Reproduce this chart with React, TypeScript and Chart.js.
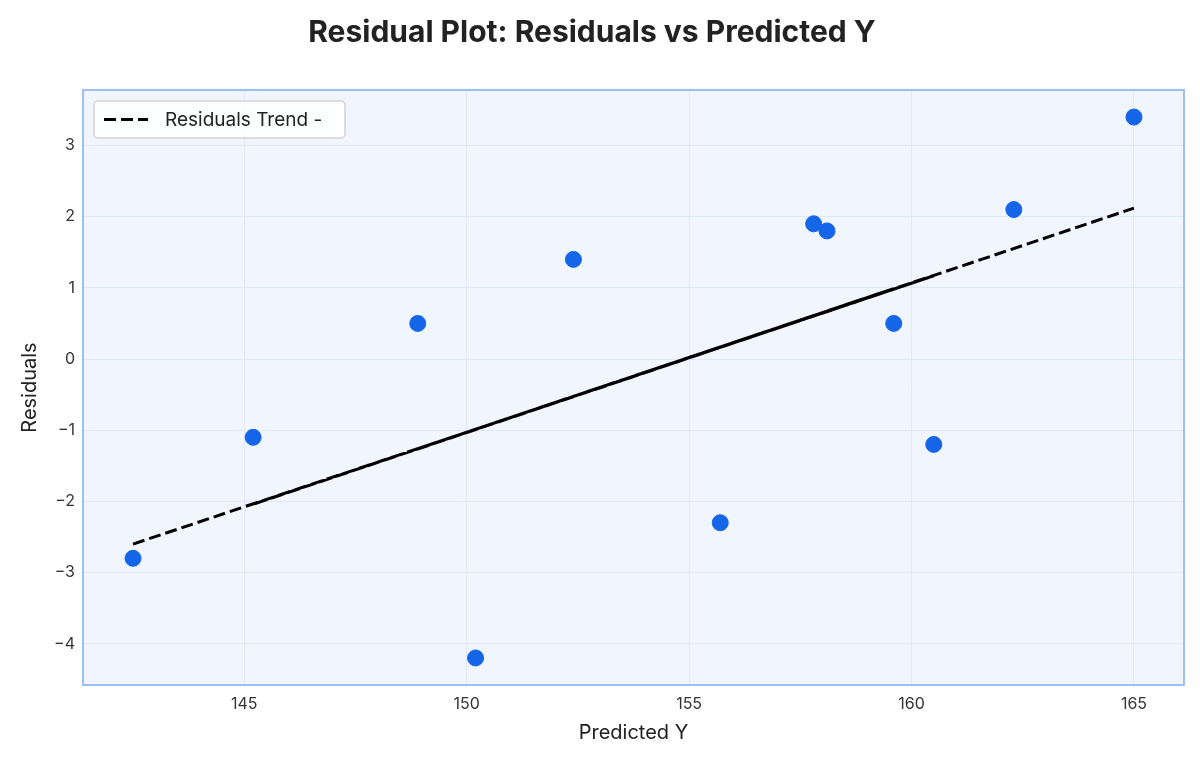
import React, { useEffect, useRef } from "react";
import { Chart, registerables } from "chart.js";

Chart.register(...registerables);

// Observations: predicted value and its residual
const predictedY = [142.5, 145.2, 148.9, 150.2, 152.4, 155.7, 157.8, 158.1, 159.6, 160.5, 162.3, 165.0];
const residuals = [-2.8, -1.1, 0.5, -4.2, 1.4, -2.3, 1.9, 1.8, 0.5, -1.2, 2.1, 3.4];

// Fitted trend, traced in the original (unsorted) order of the observations
const trendX = [142.5, 160.5, 145.2, 159.6, 148.9, 165.0];
const trendY = [-2.6, 1.17, -2.04, 0.99, -1.26, 2.12];

const xTicks = [145, 150, 155, 160, 165];
const yTicks = [-4, -3, -2, -1, 0, 1, 2, 3];

const FONT = "Inter, 'Noto Sans', sans-serif";

const plotDecor = {
  id: "plotDecor",
  beforeDraw(chart: any) {
    const { ctx, chartArea: a } = chart;
    ctx.save();
    ctx.fillStyle = "#f1f6fe";
    ctx.fillRect(a.left, a.top, a.right - a.left, a.bottom - a.top);
    ctx.restore();
  },
  afterDraw(chart: any) {
    const { ctx, chartArea: a } = chart;
    ctx.save();
    ctx.strokeStyle = "#9dbff2";
    ctx.lineWidth = 2;
    ctx.strokeRect(a.left, a.top, a.right - a.left, a.bottom - a.top);

    // legend box
    const lx = a.left + 11;
    const ly = a.top + 11;
    const w = 251;
    const h = 37;
    ctx.beginPath();
    ctx.roundRect(lx, ly, w, h, 4);
    ctx.fillStyle = "rgba(255,255,255,0.85)";
    ctx.fill();
    ctx.strokeStyle = "#d4d4d4";
    ctx.lineWidth = 1.5;
    ctx.stroke();
    ctx.beginPath();
    ctx.setLineDash([12, 5]);
    ctx.strokeStyle = "#000";
    ctx.lineWidth = 3;
    ctx.moveTo(lx + 10, ly + 18.5);
    ctx.lineTo(lx + 54, ly + 18.5);
    ctx.stroke();
    ctx.setLineDash([]);
    ctx.fillStyle = "#222";
    ctx.font = `19px ${FONT}`;
    ctx.textBaseline = "middle";
    ctx.fillText("Residuals Trend -", lx + 71, ly + 19);
    ctx.restore();
  },
};

export default function App() {
  const ref = useRef<HTMLCanvasElement>(null);

  useEffect(() => {
    document.body.style.margin = "0";
    const chart = new Chart(ref.current!, {
      type: "scatter",
      data: {
        datasets: [
          {
            label: "Residuals Trend -",
            data: trendX.map((x, i) => ({ x, y: trendY[i] })),
            showLine: true,
            borderColor: "#000",
            borderWidth: 3,
            borderDash: [12, 5],
            pointRadius: 0,
            fill: false,
            order: 1,
          },
          {
            label: "Residuals",
            data: predictedY.map((x, i) => ({ x, y: residuals[i] })),
            backgroundColor: "#1565e8",
            borderColor: "#1565e8",
            pointRadius: 8,
            order: 0,
          },
        ],
      },
      plugins: [plotDecor],
      options: {
        responsive: false,
        animation: false,
        layout: { padding: { left: 0, right: 16, top: 0, bottom: 0 } },
        plugins: {
          legend: { display: false },
          tooltip: { enabled: false },
          title: {
            display: true,
            text: "Residual Plot: Residuals vs Predicted Y",
            color: "#222",
            font: { family: FONT, size: 30, weight: "bold" },
            padding: { top: 15, bottom: 39 },
          },
        },
        scales: {
          x: {
            type: "linear",
            min: 141.375,
            max: 166.125,
            afterBuildTicks: (s: any) => {
              s.ticks = xTicks.map((v) => ({ value: v }));
            },
            afterFit: (s: any) => {
              s.height = 76;
            },
            grid: { color: "#dfe8fa", drawTicks: false },
            border: { display: false },
            ticks: {
              color: "#333",
              padding: 10,
              font: { family: FONT, size: 16 },
              callback: (v: any) => String(v),
            },
            title: {
              display: true,
              text: "Predicted Y",
              color: "#222",
              font: { family: FONT, size: 20 },
              padding: { top: 4, bottom: 16 },
            },
          },
          y: {
            type: "linear",
            min: -4.58,
            max: 3.78,
            afterBuildTicks: (s: any) => {
              s.ticks = yTicks.map((v) => ({ value: v }));
            },
            afterFit: (s: any) => {
              s.width = 83;
            },
            grid: { color: "#dfe8fa", drawTicks: false },
            border: { display: false },
            ticks: {
              color: "#333",
              padding: 8,
              font: { family: FONT, size: 16 },
              callback: (v: any) => (v < 0 ? "\u2212" + Math.abs(v) : String(v)),
            },
            title: {
              display: true,
              text: "Residuals",
              color: "#222",
              font: { family: FONT, size: 20 },
              padding: { top: 18, bottom: 4 },
            },
          },
        },
      },
    });
    return () => chart.destroy();
  }, []);

  return (
    <div style={{ width: 1200, height: 761, background: "#fff" }}>
      <canvas ref={ref} width={1200} height={761} />
    </div>
  );
}
